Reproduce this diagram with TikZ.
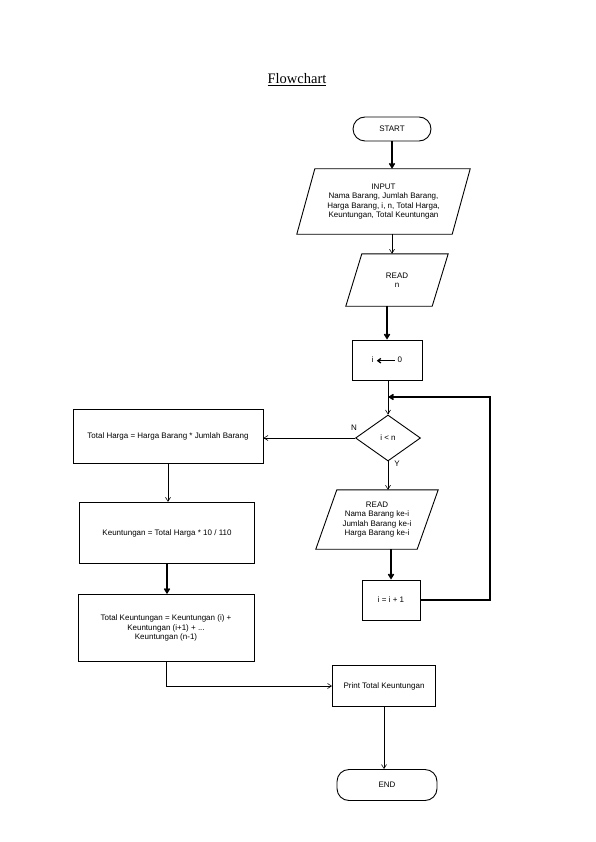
\documentclass[tikz,border=0pt]{standalone}
\usepackage{fontspec}
\setmainfont{Liberation Sans}
\newfontfamily\titlefont{Liberation Serif}
\usetikzlibrary{shapes.geometric,arrows.meta}

\tikzset{
  proc/.style={draw,line width=0.9pt,rectangle,inner sep=2pt,align=center},
  term/.style={draw,line width=0.9pt,rectangle,rounded corners=12pt,inner sep=2pt},
  io/.style={rectangle,inner sep=1pt,align=center},
  cek/.style={draw,line width=0.9pt,diamond,inner sep=0pt,minimum width=65pt,minimum height=46pt},
  arrow/.style={line width=0.6pt,-{Straight Barb[length=4pt,width=5pt]}},
  tarrow/.style={line width=1.6pt,-{Straight Barb[length=4pt,width=5pt]}},
}
% jajar genjang di sekeliling node: #1 = nama node, #2 = setengah geser
\newcommand\jajargenjang[2]{%
  \draw[line width=0.9pt] ([xshift=#2]#1.north west) -- ([xshift=#2]#1.north east)
    -- ([xshift=-#2]#1.south east) -- ([xshift=-#2]#1.south west) -- cycle;}

\begin{document}
\begin{tikzpicture}[x=1pt,y=-1pt,font=\fontsize{8}{9.3}\selectfont]
		\useasboundingbox (0,0) rectangle (595,842);
		%judul
		\node (judul) at (297,80) {\titlefont\fontsize{14.5}{16}\selectfont\underline{Flowchart}};
		%kolom kanan
		\node[term,minimum width=78pt,minimum height=24pt] (start) at (392,129) {START};
		\node[io,minimum width=155pt,minimum height=65pt] (input) at (383.5,201.5)
			{INPUT\\Nama Barang, Jumlah Barang,\\Harga Barang, i, n, Total Harga,\\Keuntungan, Total Keuntungan};
		\jajargenjang{input}{9pt}
		\node[io,minimum width=86pt,minimum height=52pt] (readn) at (397,280) {READ\\n};
		\jajargenjang{readn}{8pt}
		\node[proc,minimum width=70pt,minimum height=40pt] (init) at (387,360) {i \raisebox{0.35ex}{\tikz[baseline]\draw[line width=1.3pt,-{Straight Barb[length=3pt,width=4.5pt]}] (18pt,0) -- (0,0);} 0};
		\node[cek] (cond) at (388,438) {i < n};
		\node[io,minimum width=101pt,minimum height=59pt] (readi) at (377,519.5)
			{READ\\Nama Barang ke-i\\Jumlah Barang ke-i\\Harga Barang ke-i};
		\jajargenjang{readi}{10.5pt}
		\node[proc,minimum width=58pt,minimum height=40pt] (inc) at (391,600) {i = i + 1};
		\node[proc,minimum width=103pt,minimum height=41pt] (print) at (384,686) {Print Total Keuntungan};
		\node[term,minimum width=100pt,minimum height=31pt] (end) at (387,785) {END};
		%kolom kiri
		\node[proc,minimum width=190pt,minimum height=54pt] (harga) at (168,436) {Total Harga = Harga Barang * Jumlah Barang};
		\node[proc,line width=1.3pt,minimum width=175pt,minimum height=61pt] (untung) at (167,533) {Keuntungan = Total Harga * 10 / 110};
		\node[proc,minimum width=176pt,minimum height=67pt] (total) at (166,628)
			{Total Keuntungan = Keuntungan (i) +\\Keuntungan (i+1) + ...\\Keuntungan (n-1)};
		%label
		\node (n-lbl) at (354,428) {N};
		\node (y-lbl) at (397,464) {Y};
		%panah
		\coordinate (loopc) at (490,397);
		\coordinate (join) at (cond.north |- loopc);
		\draw[tarrow] (start.south) -- (start.south |- input.north);
		\draw[arrow] (start.south |- input.south) -- (start.south |- readn.north);
		\draw[tarrow] (readn.south -| init.north) -- (init.north);
		\draw[arrow] (init.south -| cond.north) -- (cond.north);
		\draw[arrow] (cond.west) -- (cond.west -| harga.east);
		\draw[arrow] (cond.south) -- (cond.south |- readi.north);
		\draw[tarrow] (readi.south -| inc.north) -- (inc.north);
		\draw[tarrow] (inc.east) -| (loopc) -- (join);
		\draw[arrow] (harga.south) -- (harga.south |- untung.north);
		\draw[tarrow] (untung.south) -- (untung.south |- total.north);
		\draw[arrow] (total.south) |- (print.west);
		\draw[arrow] (print.south) -- (print.south |- end.north);
	\end{tikzpicture}
\end{document}
